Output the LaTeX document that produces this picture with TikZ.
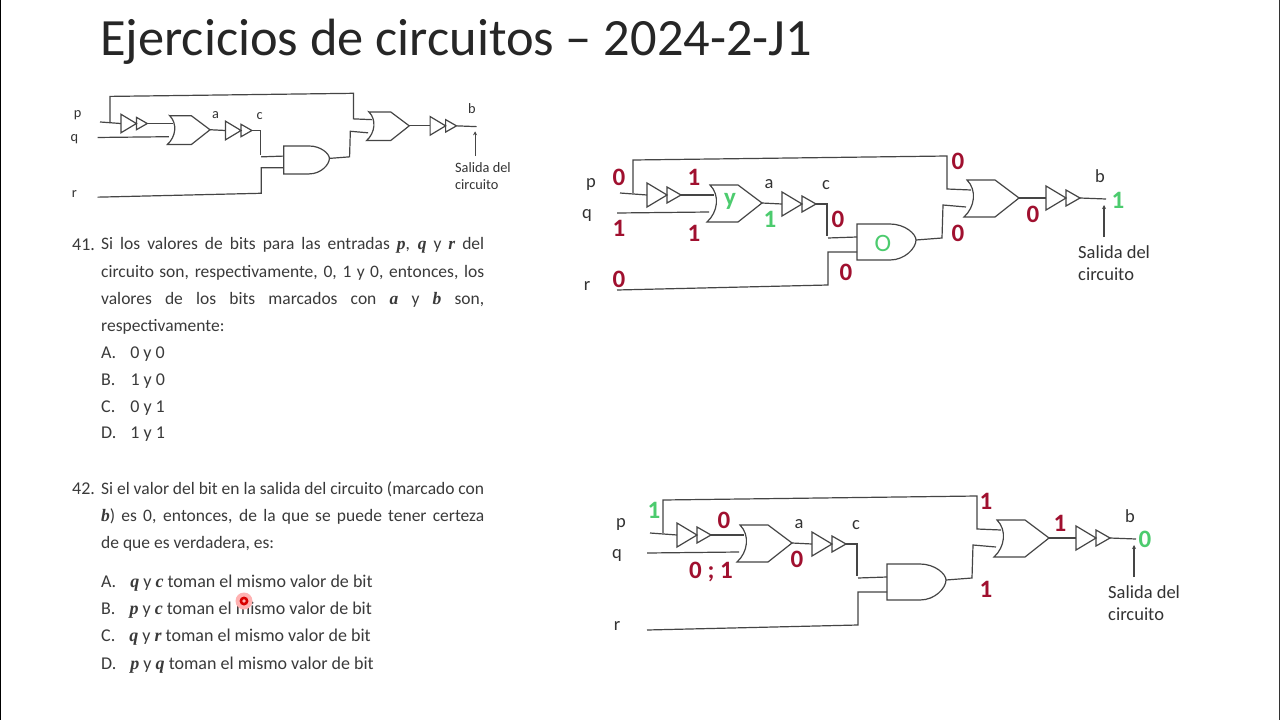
\documentclass[tikz,border=0pt]{standalone}
\usepackage{fontspec}
\usetikzlibrary{arrows.meta}
\setmainfont{Carlito}
\newfontfamily\mate{Liberation Serif}
\definecolor{rojobit}{HTML}{A0102F}
\definecolor{verdebit}{HTML}{4CCB6E}
\definecolor{cable}{HTML}{454545}
\definecolor{texto}{HTML}{3A3A3A}
\newcommand{\letra}[1]{{\mate\bfseries\itshape #1}}
\tikzset{
  wire/.style={cable, line width=1.2pt},
  rojo/.style={rojobit, font=\fontsize{25}{25}\selectfont\bfseries, inner sep=0pt},
  verde/.style={verdebit, font=\fontsize{25}{25}\selectfont\bfseries, inner sep=0pt},
  rotulo/.style={black!80, font=\fontsize{18.5}{18.5}\selectfont, inner sep=0pt},
  salida/.style={black!80, font=\fontsize{18.5}{22}\selectfont, inner sep=0pt, align=left, anchor=west},
  parrafo/.style={texto, font=\fontsize{17.5}{27.2}\selectfont, inner sep=0pt, anchor=north west, text width=383pt, align=justify},
  opcion/.style={texto, font=\fontsize{18}{27.2}\selectfont, inner sep=0pt, anchor=west},
  % two triangles in a row
  doblebuf/.pic={
    \draw[wire] (0,-12) -- (20,0) -- (0,12) -- cycle;
    \draw[wire] (20,-8) -- (34,0) -- (20,8) -- cycle;
    \coordinate (-in) at (0,0);
    \coordinate (-out) at (34,0);
  },
  % origin at the tip
  puertaor/.pic={
    \draw[wire] (-52,-18) -- (-24,-18) -- (0,0) -- (-24,19) -- (-55,19)
      .. controls (-44,9) and (-42,-8) .. cycle;
    \coordinate (-a) at (-48,-8);
    \coordinate (-b) at (-53,9);
    \coordinate (-out) at (0,0);
  },
  % origin at the middle of the left side
  puertaand/.pic={
    \draw[wire] (0,-18) -- (33,-18) .. controls (48,-18) and (59,-8) .. (59,-2)
      .. controls (59,6) and (48,18) .. (33,18) -- (0,18) -- cycle;
    \coordinate (-a) at (0,-5);
    \coordinate (-b) at (0,10);
    \coordinate (-out) at (59,-2);
  }
}
% #1 prefix, #2 shift, #3 scale
\newcommand{\circuito}[3]{
\begin{scope}[shift={#2}, scale=#3, transform shape]
  \coordinate (#1p) at (620,193);
  \coordinate (#1q) at (617,213);
  \coordinate (#1r) at (617,290);
  \coordinate (#1rama) at (633,193);
  \coordinate (#1alto) at (633,160);
  \coordinate (#1altofin) at (947,156);
  \coordinate (#1bajaA) at (947,189);
  \coordinate (#1cA) at (827,204);
  \coordinate (#1cB) at (827,236);
  \coordinate (#1cC) at (828,238);
  \coordinate (#1rA) at (828,285);
  \coordinate (#1rB) at (828,252);
  \coordinate (#1sA) at (942,238);
  \coordinate (#1sB) at (943,205);
  \coordinate (#1fin) at (1106,199);
  \coordinate (#1flecha) at (1104,237);
  \coordinate (#1punta) at (1104,205);

  \pic (#1bufuno) at (647,195) {doblebuf};
  \pic (#1ordos) at (762,203) {puertaor};
  \pic (#1bufdos) at (782,204) {doblebuf};
  \pic (#1y) at (857,242) {puertaand};
  \pic (#1orfin) at (1019,198) {puertaor};
  \pic (#1buftres) at (1046,198) {doblebuf};

  \draw[wire] (#1p) -- (#1bufuno-in);
  \draw[wire] (#1rama) -- (#1alto) -- (#1altofin) -- (#1bajaA) -- (#1orfin-a);
  \draw[wire] (#1bufuno-out) -- (#1ordos-a);
  \draw[wire] (#1q) -- (#1ordos-b);
  \draw[wire] (#1ordos-out) -- (#1bufdos-in);
  \draw[wire] (#1bufdos-out) -- (#1cA) -- (#1cB);
  \draw[wire] (#1cC) -- (#1y-a);
  \draw[wire] (#1r) -- (#1rA) -- (#1rB) -- (#1y-b);
  \draw[wire] (#1y-out) -- (#1sA) -- (#1sB) -- (#1orfin-b);
  \draw[wire] (#1orfin-out) -- (#1buftres-in);
  \draw[wire] (#1buftres-out) -- (#1fin);
  \draw[wire, -{Stealth[length=4pt,width=4pt]}] (#1flecha) -- (#1punta);

  \node[rotulo] (#1lp) at (591,184) {p};
  \node[rotulo] (#1lq) at (587,215) {q};
  \node[rotulo] (#1lr) at (587,286) {r};
  \node[rotulo] (#1la) at (769,184) {a};
  \node[rotulo] (#1lc) at (826,185) {c};
  \node[rotulo] (#1lb) at (1100,176) {b};
  \node[salida] (#1lsal) at (1078,263) {Salida del\\circuito};
\end{scope}
}
\begin{document}
\begin{tikzpicture}[x=1pt,y=-1pt]
\useasboundingbox[fill=white] (0,0) rectangle (1280,720);
\draw[black, line width=1.6pt] (0.6,0) -- (0.6,720);
\draw[black!80, line width=1.2pt] (1279.4,0) -- (1279.4,720);

\node[anchor=base west, inner sep=0pt, font=\fontsize{52.4}{52.4}\selectfont, black!85] (titulo) at (100,55)
  {Ejercicios de circuitos – 2024-2-J1};

\circuito{ch}{(-380.5,-27.6)}{0.775}
\circuito{ar}{(0,0)}{1}
\circuito{ab}{(30,340)}{1}

% first answer
\node[rojo] (v1) at (619,177) {0};
\node[rojo] (v2) at (694,177) {1};
\node[rojo] (v3) at (619,228) {1};
\node[rojo] (v4) at (694,233) {1};
\node[verde] (v5) at (730,201) {y};
\node[verde] (v6) at (770,219) {1};
\node[rojo] (v7) at (838,219) {0};
\node[rojo] (v8) at (846,272) {0};
\node[verde, font=\fontsize{25}{25}\selectfont] (v9) at (883,243) {O};
\node[rojo] (v10) at (958,161) {0};
\node[rojo] (v11) at (958,233) {0};
\node[rojo] (v12) at (1033,214) {0};
\node[verde] (v13) at (1118,200) {1};
\node[rojo] (v14) at (619,279) {0};

% second answer
\node[verde] (w1) at (654,510) {1};
\node[rojo] (w2) at (724,520) {0};
\node[rojo] (w3) at (711,572) {0 ; 1};
\node[rojo] (w4) at (797,559) {0};
\node[rojo] (w5) at (986,501) {1};
\node[rojo] (w6) at (986,589) {1};
\node[rojo] (w7) at (1060,523) {1};
\node[verde] (w8) at (1145,539) {0};

\node[opcion] (n41) at (72,245) {41.};
\node[parrafo] (p41) at (101,237.5) {Si los valores de bits para las entradas \letra{p}, \letra{q} y \letra{r} del\linebreak
circuito son, respectivamente, 0, 1 y 0, entonces, los\linebreak
valores de los bits marcados con \letra{a} y \letra{b} son,\linebreak
respectivamente:};
\node[opcion] (a41) at (101,354) {A.\hspace{14pt}0 y 0};
\node[opcion] (b41) at (101,381) {B.\hspace{15pt}1 y 0};
\node[opcion] (c41) at (101,408) {C.\hspace{15pt}0 y 1};
\node[opcion] (d41) at (101,434) {D.\hspace{14pt}1 y 1};

\node[opcion] (n42) at (72,489) {42.};
\node[parrafo] (p42) at (101,481.5) {Si el valor del bit en la salida del circuito (marcado con\linebreak
\letra{b}) es 0, entonces, de la que se puede tener certeza\linebreak
de que es verdadera, es:};
\node[opcion] (a42) at (101,583) {A.\hspace{14pt}\letra{q} y \letra{c} toman el mismo valor de bit};
\node[opcion] (b42) at (101,610) {B.\hspace{14pt}\letra{p} y \letra{c} toman el mismo valor de bit};
\node[opcion] (c42) at (101,637) {C.\hspace{14pt}\letra{q} y \letra{r} toman el mismo valor de bit};
\node[opcion] (d42) at (101,665) {D.\hspace{14pt}\letra{p} y \letra{q} toman el mismo valor de bit};

% pointer
\fill[red!30] (244,601) circle (8.5);
\fill[red!85!black] (244,601) circle (4.5);
\fill[red!30] (244,601) circle (1.8);
\end{tikzpicture}
\end{document}
